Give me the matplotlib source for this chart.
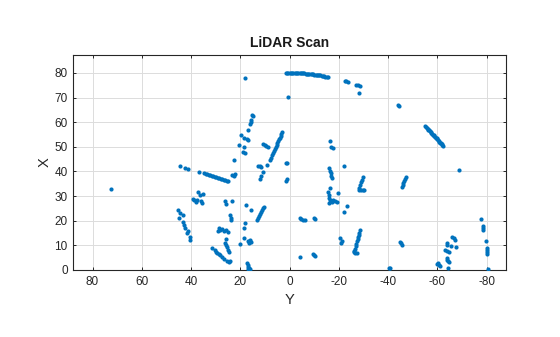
import matplotlib
matplotlib.use("Agg")
import matplotlib.pyplot as plt
import numpy as np

plt.rcParams["font.family"] = ["Liberation Sans", "DejaVu Sans"]
plt.rcParams["axes.unicode_minus"] = False

# scan points, horizontal value is "Y", vertical is "X"
# wall straight ahead
front_y = [1.5, 1.0, 0.5, 0.0, -0.5, -1.0, -1.5, -2.0, -2.5, -3.0, -3.5, -4.0, -4.5, -5.0,
           -5.5, -6.0, -6.5, -7.0, -7.5, -8.0, -8.5, -9.0, -9.5, -10.0, -10.5, -11.0,
           -11.5, -12.0, -12.5, -13.0, -13.5, -14.0, -14.5, -15.0, -15.4]
front_x = [80.1, 80.1, 80.1, 80.1, 80.1, 80.1, 80.1, 80.1, 80.1, 80.1, 79.9, 79.9, 79.9, 79.9,
           79.9, 79.9, 79.7, 79.7, 79.7, 79.7, 79.7, 79.7, 79.4, 79.3, 79.3, 79.3,
           79.0, 79.0, 79.0, 78.9, 78.7, 78.6, 78.5, 78.3, 78.2]

# diagonal wall on the right
diag_y = [-55.1, -55.4, -55.7, -56.0, -56.3, -56.6, -56.9, -57.2, -57.5, -57.8, -58.1, -58.4,
          -58.7, -59.0, -59.3, -59.6, -59.9, -60.2, -60.5, -60.8, -61.1, -61.4, -61.7, -62.0, -62.3]
diag_x = [58.3, 58.0, 57.6, 57.3, 57.0, 56.7, 56.3, 56.0, 55.7, 55.3, 55.0, 54.7,
          54.4, 54.0, 53.7, 53.4, 53.0, 52.7, 52.4, 52.1, 51.7, 51.4, 51.1, 50.8, 50.5]

# left side structures
left_y = [72.7, 44.3, 42.3, 41.3, 36.7, 34.6, 34.0, 33.4, 32.8, 32.2, 31.6, 31.0, 30.4, 29.8,
          29.2, 28.6, 28.0, 27.4, 26.8, 26.2, 25.6, 25.0, 23.5, 22.6, 22.2,
          37.0, 35.1, 39.2, 38.7, 38.2, 37.4, 36.0, 35.5, 36.2,
          45.2, 44.5, 43.4, 44.8, 43.2, 42.8, 42.4, 41.3, 41.8, 40.6, 40.3,
          26.1, 25.7, 23.2, 24.1, 23.8, 23.6,
          28.8, 28.2, 27.5, 26.8, 26.0, 25.1, 29.2,
          25.7, 26.1, 25.8, 25.4, 25.0, 24.8,
          31.5, 30.4, 29.8, 29.3, 28.7, 28.1,
          27.5, 26.6, 25.5, 24.7, 24.4, 22.7]
left_x = [32.8, 42.3, 41.4, 41.0, 39.7, 39.2, 39.0, 38.9, 38.7, 38.5, 38.3, 38.1, 37.9, 37.7,
          37.4, 37.2, 37.0, 36.8, 36.6, 36.4, 36.2, 36.0, 38.5, 38.2, 38.8,
          31.6, 30.8, 28.9, 28.5, 27.6, 28.5, 28.0, 27.4, 30.5,
          24.4, 23.0, 22.4, 21.0, 19.6, 18.3, 17.2, 16.0, 14.9, 13.5, 12.2,
          28.0, 26.7, 28.0, 22.4, 21.2, 20.1,
          16.9, 16.4, 16.6, 16.0, 16.3, 15.6, 15.8,
          12.6, 10.8, 10.0, 9.2, 8.3, 7.4,
          8.8, 8.2, 7.4, 7.0, 6.5, 6.1,
          5.2, 4.3, 3.8, 3.4, 3.6, 44.7]

# middle structures
mid_y = [18.0, 0.5, 15.4, 15.0, 15.7, 15.6, 15.9, 17.1, 19.9, 18.4, 17.5, 17.1, 20.6, 18.7, 19.0, 18.3,
         3.1, 3.4, 3.7, 4.0, 4.3, 4.6, 5.0, 5.3, 5.6, 6.0, 6.3, 6.6, 7.0, 7.4, 7.8,
         10.7, 10.0, 9.5, 8.9,
         13.0, 12.2, 11.6, 9.3, 11.0, 11.8, 12.2,
         0.9, 1.5, 1.2, 1.6,
         10.6, 11.0, 11.4, 11.8, 12.1, 12.5, 12.9, 13.2,
         17.6, 15.6, 18.0, 18.4,
         18.7, 20.3, 16.2, 16.6, 16.9, 15.8,
         17.3, 17.0, 16.8, 16.5, 16.1, 16.9]
mid_x = [77.9, 70.2, 63.0, 62.4, 61.0, 60.2, 59.2, 56.9, 54.9, 53.5, 53.0, 52.7, 50.8, 49.9, 48.1, 47.6,
         56.2, 55.4, 54.6, 53.8, 53.0, 52.2, 51.4, 50.6, 49.8, 49.0, 48.2, 47.4, 46.6, 45.6, 44.7,
         51.3, 50.9, 50.5, 50.1,
         42.4, 42.2, 42.0, 42.7, 39.7, 38.2, 36.9,
         43.4, 43.4, 36.9, 36.3,
         25.7, 25.0, 24.2, 23.4, 22.6, 21.8, 21.0, 20.3,
         26.4, 24.4, 19.0, 17.2,
         13.1, 10.6, 12.2, 10.8, 11.6, 11.2,
         2.7, 2.0, 1.4, 0.8, 0.3, 0.5]

# right of centre
right_y = [-22.4, -23.0, -23.6, -26.8, -27.6, -28.6, -28.0,
           -4.2, -4.8, -5.5, -6.3, -9.7, -10.2, -4.2, -9.4, -9.9, -10.3,
           -16.5, -16.8, -17.6, -16.1, -16.4, -16.7, -16.9, -17.1, -16.4,
           -15.7, -15.9, -16.1, -16.3, -16.0, -17.0, -19.8, -17.7, -18.4, -19.1,
           -22.2, -23.3, -22.2,
           -29.8, -29.4, -29.0, -28.6, -28.3, -28.2, -29.0, -29.7, -30.3,
           -20.6, -21.1, -20.7,
           -28.4, -28.2, -28.0, -27.8, -27.6, -27.3, -27.1, -26.8, -26.6, -26.3, -26.0, -26.6, -27.4,
           -40.9, -40.5, -43.9, -44.5,
           -47.2, -46.9, -46.5, -46.2, -45.9, -45.6,
           -44.7, -45.2, -45.6, -68.9]
right_x = [76.8, 76.6, 76.2, 75.2, 75.0, 74.6, 71.8,
           21.0, 20.6, 20.4, 20.4, 21.0, 20.6, 5.2, 6.4, 6.1, 5.8,
           52.4, 49.8, 49.4, 41.3, 40.3, 39.3, 38.3, 37.3, 33.2,
           31.8, 30.6, 29.4, 28.3, 27.2, 27.6, 31.2, 28.6, 28.2, 27.8,
           42.3, 26.0, 23.5,
           37.7, 36.6, 35.6, 34.4, 33.2, 32.5, 32.5, 32.4, 32.5,
           12.9, 11.9, 11.1,
           16.3, 15.2, 14.3, 13.4, 12.5, 11.6, 10.6, 9.7, 8.7, 7.9, 7.4, 7.1, 6.8,
           0.7, 0.8, 67.1, 66.6,
           37.9, 37.0, 36.2, 35.4, 34.6, 33.9,
           11.3, 10.8, 10.3, 40.6]

# far right
far_y = [-59.7, -60.2, -60.6, -61.0, -64.2,
         -63.7, -64.0, -65.3, -63.2, -64.0, -64.6, -63.7, -64.0, -64.4, -64.8,
         -65.9, -66.5, -67.3, -67.5,
         -77.7, -78.4, -78.4, -78.5, -79.6, -79.9, -80.0, -80.1, -80.2, -80.4]
far_x = [2.4, 2.7, 2.0, 1.6, 0.7,
         10.8, 10.2, 9.9, 8.1, 7.6, 7.4, 4.8, 4.2, 3.8, 3.4,
         13.3, 12.8, 12.2, 9.2,
         20.6, 18.0, 17.2, 16.3, 11.8, 9.1, 8.3, 7.4, 6.5, 0.3]

scan_y = np.concatenate([front_y, diag_y, left_y, mid_y, right_y, far_y])
scan_x = np.concatenate([front_x, diag_x, left_x, mid_x, right_x, far_x])

x_ticks = [80, 60, 40, 20, 0, -20, -40, -60, -80]
y_ticks = [0, 10, 20, 30, 40, 50, 60, 70, 80]

fig = plt.figure(figsize=(5.6, 3.37), dpi=100)
ax = fig.add_axes([73.3 / 560, 1 - 270 / 337, (506 - 73.3) / 560, (270 - 55) / 337])

ax.scatter(scan_y, scan_x, s=9, color="#0072BD", linewidths=0, zorder=3)

ax.set_xlim(87.8, -87.8)
ax.set_ylim(0, 87.3)
ax.set_xticks(x_ticks)
ax.set_xticklabels([str(t) for t in x_ticks])
ax.set_yticks(y_ticks)
ax.set_yticklabels([str(t) for t in y_ticks])

ax.grid(True, color="#dcdcdc", linewidth=0.7)
ax.set_axisbelow(True)
for sp in ax.spines.values():
    sp.set_color("#262626")
    sp.set_linewidth(0.8)
ax.tick_params(direction="in", length=2.5, width=0.7, top=True, right=True,
               labelsize=8.5, colors="#262626", pad=4)

ax.set_title("LiDAR Scan", fontsize=10, fontweight="bold", color="#1a1a1a", pad=6)
ax.set_xlabel("Y", fontsize=10.5, color="#262626", labelpad=4)
ax.set_ylabel("X", fontsize=10.5, color="#262626", labelpad=2)

fig.savefig("out.png", dpi=100)
